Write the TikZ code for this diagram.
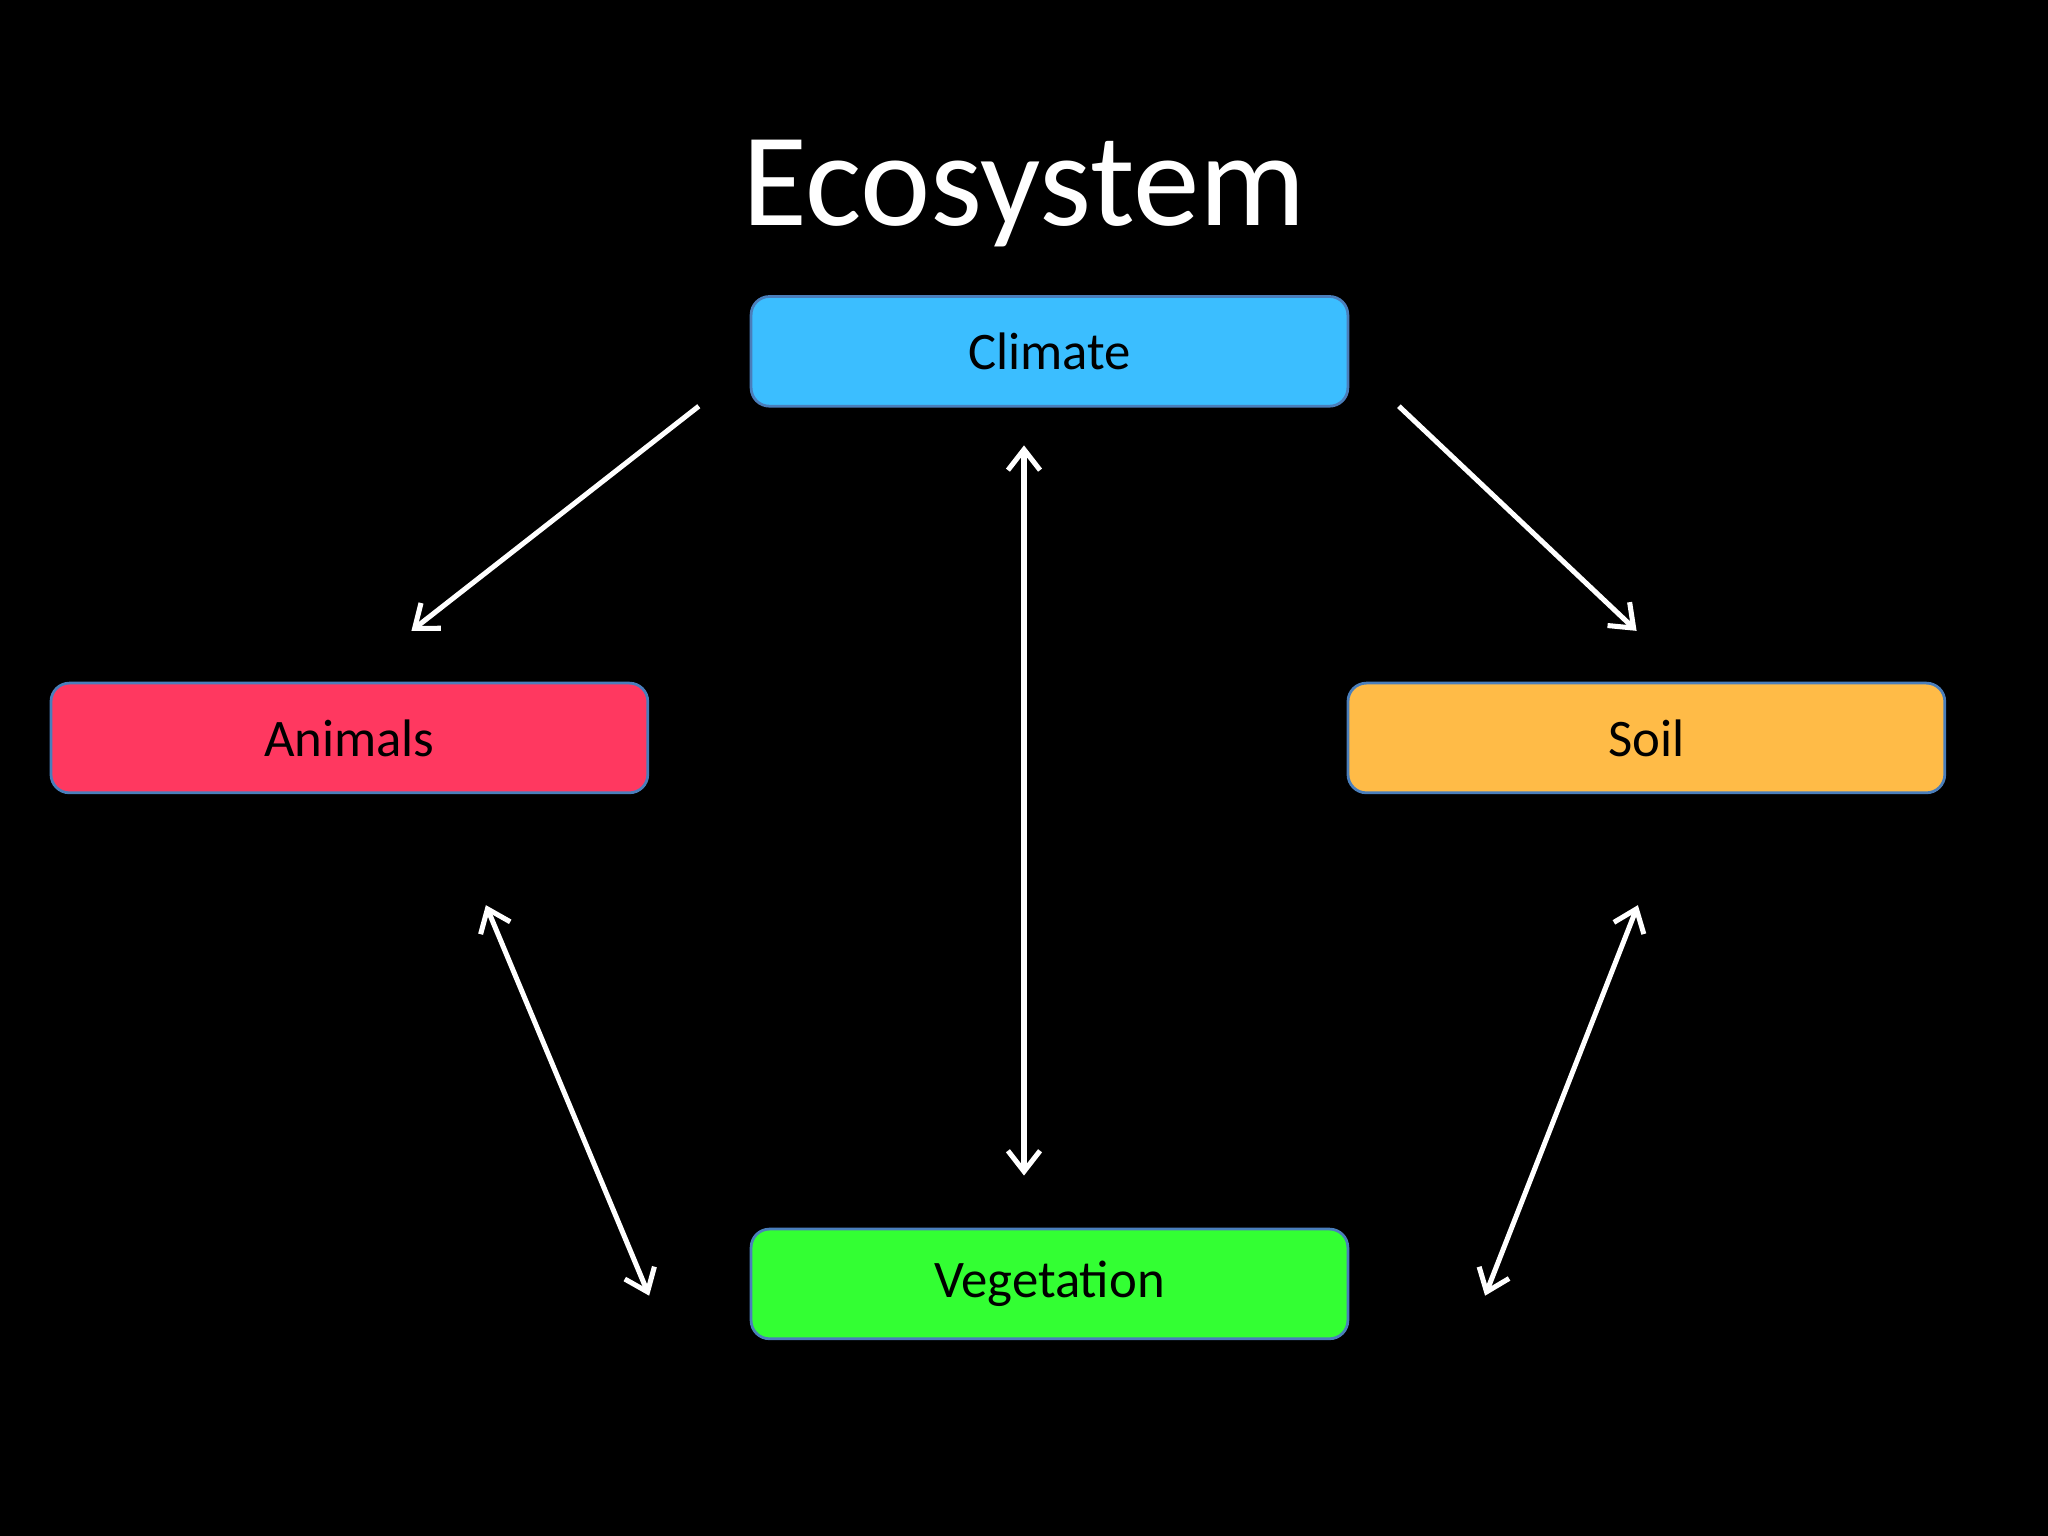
\documentclass[tikz,border=0pt]{standalone}
\usepackage{fontspec}
\setmainfont{Carlito}
\usetikzlibrary{arrows.meta}
\definecolor{cClim}{HTML}{3BBEFF}
\definecolor{cAnim}{HTML}{FF3860}
\definecolor{cSoil}{HTML}{FFBB47}
\definecolor{cVeg}{HTML}{33FF33}
\definecolor{cEdge}{HTML}{4A7EBB}
\begin{document}
\begin{tikzpicture}[x=0.02cm,y=-0.02cm,
  box/.style={draw=cEdge,line width=1.2pt,rounded corners=8pt,minimum width=9.14cm,minimum height=1.68cm,font=\fontsize{23}{27}\selectfont,text=black},
  conn/.style={white,line width=2.2pt,-{Straight Barb[length=9pt,width=14pt]}},
  conn2/.style={white,line width=2.2pt,{Straight Barb[length=9pt,width=14pt]}-{Straight Barb[length=9pt,width=14pt]}}]
\fill[black] (0,0) rectangle (1568,1176);
\useasboundingbox (0,0) rectangle (1568,1176);
\node[text=white,font=\fontsize{58}{66}\selectfont] (title) at (784,148) {Ecosystem};
\node[box,fill=cClim] (clim) at (803.5,269) {Climate};
\node[box,fill=cAnim] (anim) at (267.5,565) {Animals};
\node[box,fill=cSoil] (soil) at (1260.5,565) {Soil};
\node[box,fill=cVeg] (veg) at (803.5,983) {Vegetation};
\coordinate (a1) at (535,311); \coordinate (a2) at (315,483);
\coordinate (b1) at (1071,311); \coordinate (b2) at (1253,483);
\coordinate (c1) at (784,341); \coordinate (c2) at (784,900);
\coordinate (d1) at (372,693); \coordinate (d2) at (497,992);
\coordinate (e1) at (1254,693); \coordinate (e2) at (1137,992);
\draw[conn] (a1) -- (a2);
\draw[conn] (b1) -- (b2);
\draw[conn2] (c1) -- (c2);
\draw[conn2] (d1) -- (d2);
\draw[conn2] (e1) -- (e2);
\end{tikzpicture}
\end{document}
